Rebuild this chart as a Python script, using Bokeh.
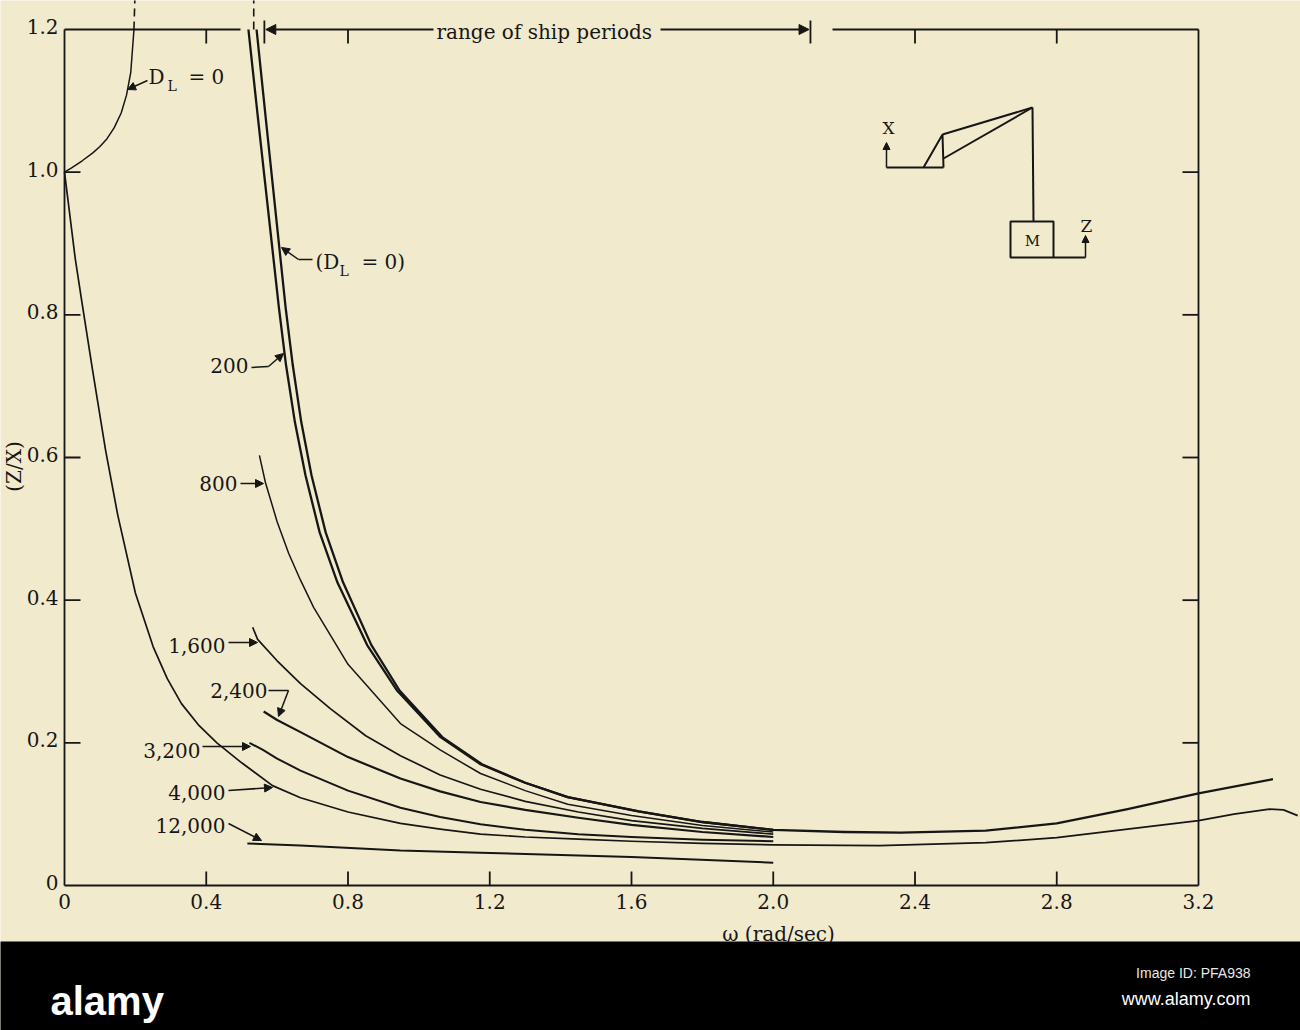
import math
from bokeh.plotting import figure
from bokeh.models import Range1d, Arrow, NormalHead
from bokeh.core.properties import value
from bokeh.embed import file_html
from bokeh.resources import INLINE

# ---------------- chart data ----------------
x_ticks = [0.0, 0.4, 0.8, 1.2, 1.6, 2.0, 2.4, 2.8, 3.2]
x_tick_labels = ["0", "0.4", "0.8", "1.2", "1.6", "2.0", "2.4", "2.8", "3.2"]
y_ticks = [0.0, 0.2, 0.4, 0.6, 0.8, 1.0, 1.2]
y_tick_labels = ["0", "0.2", "0.4", "0.6", "0.8", "1.0", "1.2"]
x_title = "ω (rad/sec)"
y_title = "(Z/X)"
range_label = "range of ship periods"
range_w = [0.564, 2.105]

# D_L = 0, low-frequency branch
w_dl0_low = [0.0, 0.02, 0.05, 0.08, 0.10, 0.12, 0.14, 0.16, 0.175, 0.187, 0.196]
z_dl0_low = [1.0, 1.006, 1.016, 1.027, 1.036, 1.047, 1.062, 1.083, 1.108, 1.14, 1.2]
w_dl0_low_dash = [0.196, 0.199]
z_dl0_low_dash = [1.2, 1.25]
w_res_dash = [0.534, 0.534]
z_res_dash = [1.2, 1.25]

# (D_L = 0), high-frequency branch
w_dl0 = [0.542, 0.567, 0.586, 0.605, 0.624, 0.644, 0.668, 0.697, 0.737, 0.786, 0.866, 0.946,
         1.066, 1.178, 1.30, 1.42, 1.62, 1.80, 2.0, 2.2, 2.36, 2.6, 2.8, 3.0, 3.2, 3.41]
z_dl0 = [1.2, 1.08, 0.99, 0.90, 0.81, 0.73, 0.65, 0.575, 0.495, 0.425, 0.337, 0.273,
         0.208, 0.170, 0.144, 0.124, 0.104, 0.089, 0.078, 0.075, 0.074, 0.077, 0.087, 0.107, 0.129, 0.149]

w_200 = [0.519, 0.545, 0.565, 0.585, 0.605, 0.625, 0.65, 0.68, 0.72, 0.77, 0.854, 0.939,
         1.061, 1.174, 1.30, 1.42, 1.62, 1.80, 2.0]
z_200 = [1.2, 1.08, 0.99, 0.90, 0.81, 0.73, 0.65, 0.575, 0.495, 0.425, 0.337, 0.273,
         0.208, 0.170, 0.144, 0.124, 0.104, 0.089, 0.078]

w_800 = [0.55, 0.567, 0.6, 0.633, 0.666, 0.703, 0.8, 0.948, 1.06, 1.174, 1.3, 1.42, 1.6, 1.8, 2.0]
z_800 = [0.603, 0.565, 0.51, 0.465, 0.428, 0.39, 0.31, 0.227, 0.19, 0.157, 0.133, 0.114, 0.098, 0.084, 0.075]

w_1600 = [0.531, 0.545, 0.6, 0.666, 0.75, 0.85, 0.948, 1.06, 1.174, 1.3, 1.45, 1.6, 1.8, 2.0]
z_1600 = [0.362, 0.345, 0.315, 0.283, 0.248, 0.21, 0.182, 0.155, 0.135, 0.118, 0.103, 0.091, 0.080, 0.072]

w_2400 = [0.562, 0.6, 0.666, 0.8, 0.948, 1.06, 1.174, 1.3, 1.45, 1.6, 1.8, 2.0]
z_2400 = [0.244, 0.232, 0.215, 0.18, 0.150, 0.132, 0.117, 0.106, 0.095, 0.085, 0.075, 0.068]

w_3200 = [0.522, 0.56, 0.6, 0.666, 0.8, 0.948, 1.06, 1.174, 1.3, 1.45, 1.6, 1.8, 2.0]
z_3200 = [0.2, 0.19, 0.178, 0.161, 0.133, 0.109, 0.096, 0.086, 0.078, 0.072, 0.068, 0.064, 0.062]

w_4000 = [0.0, 0.01, 0.03, 0.05, 0.08, 0.116, 0.15, 0.2, 0.25, 0.29, 0.33, 0.38, 0.43, 0.5, 0.587, 0.666, 0.8,
          0.948, 1.06, 1.174, 1.3, 1.45, 1.6, 1.8, 2.0, 2.3, 2.6, 2.8, 3.0, 3.2, 3.3, 3.4, 3.44, 3.48]
z_4000 = [1.0, 0.96, 0.88, 0.815, 0.72, 0.61, 0.52, 0.41, 0.335, 0.29, 0.255, 0.224, 0.20, 0.172, 0.14, 0.123, 0.103,
          0.087, 0.079, 0.072, 0.068, 0.065, 0.062, 0.059, 0.057, 0.056, 0.060, 0.067, 0.079, 0.091, 0.100, 0.107, 0.106, 0.098]

w_12000 = [0.516, 0.666, 0.948, 1.174, 1.6, 2.0]
z_12000 = [0.059, 0.056, 0.049, 0.046, 0.040, 0.032]

series_names = ["200", "800", "1,600", "2,400", "3,200", "4,000", "12,000"]

# ---------------- layout (reference pixel geometry) ----------------
W, H = 1300, 1030
OX, OY = 0, 0
X0_PX, X_SCALE = 64.0, 354.375
Y0_PX, Y_SCALE = 885.0, 713.333
BG = "#f2eacc"
INK = "#161616"
SERIF = value("DejaVu Serif")
SANS = value("Liberation Sans")


def rx(px):
    return (px - X0_PX) / X_SCALE


def ry(py):
    return (Y0_PX - py) / Y_SCALE


p = figure(width=W, height=H,
           x_range=Range1d(rx(OX), rx(OX + W)), y_range=Range1d(ry(OY + H), ry(OY)),
           x_axis_type=None, y_axis_type=None, toolbar_location=None,
           output_backend="svg", min_border=0,
           background_fill_color=BG, border_fill_color=BG, outline_line_color=None)

# ---------------- frame ----------------
x_min, x_max = x_ticks[0], x_ticks[-1]
y_min, y_max = y_ticks[0], y_ticks[-1]
gap_l, gap_r = rx(433), rx(660)
p.multi_line(xs=[[x_min, x_min], [x_min, x_max], [x_max, x_max], [x_min, rx(240)], [rx(832), x_max]],
             ys=[[y_min, y_max], [y_min, y_min], [y_min, y_max], [y_max, y_max], [y_max, y_max]],
             line_color=INK, line_width=1.8)

inner_x = x_ticks[1:-1]
inner_y = y_ticks[1:-1]
tv = 14 / Y_SCALE
th = 16 / X_SCALE
p.segment(x0=inner_x, y0=[y_min] * len(inner_x), x1=inner_x, y1=[y_min + tv] * len(inner_x),
          line_color=INK, line_width=1.8)
top_x = [t for t in inner_x if not (gap_l - 0.05 < t < rx(832))]
p.segment(x0=top_x, y0=[y_max] * len(top_x), x1=top_x, y1=[y_max - tv] * len(top_x),
          line_color=INK, line_width=1.8)
p.segment(x0=[x_min] * len(inner_y), y0=inner_y, x1=[x_min + th] * len(inner_y), y1=inner_y,
          line_color=INK, line_width=1.8)
p.segment(x0=[x_max] * len(inner_y), y0=inner_y, x1=[x_max - th] * len(inner_y), y1=inner_y,
          line_color=INK, line_width=1.8)

# tick labels
p.text(x=x_ticks, y=[ry(901)] * len(x_ticks), text=x_tick_labels, text_font=SERIF,
       text_font_size="20px", text_align="center", text_baseline="middle", text_color=INK)
p.text(x=[rx(58)] * len(y_ticks), y=[t + 3 / Y_SCALE for t in y_ticks], text=y_tick_labels,
       text_font=SERIF, text_font_size="20px", text_align="right", text_baseline="middle", text_color=INK)

# ---------------- curves ----------------
p.line(w_dl0_low, z_dl0_low, line_color=INK, line_width=1.5, line_join="round")
p.line(w_dl0_low_dash, z_dl0_low_dash, line_color=INK, line_width=1.6, line_dash="8 5")
p.line(w_res_dash, z_res_dash, line_color=INK, line_width=1.6, line_dash="8 5")
p.line(w_dl0, z_dl0, line_color=INK, line_width=2.3, line_join="round")
p.line(w_200, z_200, line_color=INK, line_width=2.3, line_join="round")
p.line(w_800, z_800, line_color=INK, line_width=1.5, line_join="round")
p.line(w_1600, z_1600, line_color=INK, line_width=1.7, line_join="round")
p.line(w_2400, z_2400, line_color=INK, line_width=2.2, line_join="round")
p.line(w_3200, z_3200, line_color=INK, line_width=2.0, line_join="round")
p.line(w_4000, z_4000, line_color=INK, line_width=1.7, line_join="round")
p.line(w_12000, z_12000, line_color=INK, line_width=2.0, line_join="round")


def arrow_path(pts, size=8):
    if len(pts) > 2:
        p.line([rx(a) for a, b in pts[:-1]], [ry(b) for a, b in pts[:-1]], line_color=INK, line_width=1.5)
    (xa, ya), (xb, yb) = pts[-2], pts[-1]
    p.add_layout(Arrow(end=NormalHead(size=size, fill_color=INK, line_color=INK, line_width=1),
                       x_start=rx(xa), y_start=ry(ya), x_end=rx(xb), y_end=ry(yb),
                       line_color=INK, line_width=1.5))


# ---------------- curve labels ----------------
label_px = {"200": (248, 365), "800": (237, 483), "1,600": (225, 645), "2,400": (267, 690),
            "3,200": (200, 750), "4,000": (225, 792), "12,000": (225, 825)}
label_arrows = {"200": [(251, 367), (268, 366), (283, 353)],
                "800": [(240, 483), (263, 483)],
                "1,600": [(228, 642), (257, 642)],
                "2,400": [(268, 690), (288, 690), (278, 716)],
                "3,200": [(202, 746), (250, 746)],
                "4,000": [(228, 790), (272, 787)],
                "12,000": [(228, 823), (261, 840)]}
p.text(x=[rx(label_px[n][0]) for n in series_names], y=[ry(label_px[n][1]) for n in series_names],
       text=series_names, text_font=SERIF, text_font_size="20px", text_align="right",
       text_baseline="middle", text_color=INK)
for n in series_names:
    arrow_path(label_arrows[n])

# D_L = 0 (low branch)
p.text(x=[rx(148), rx(188)], y=[ry(76), ry(76)], text=["D", "= 0"], text_font=SERIF,
       text_font_size="20px", text_align="left", text_baseline="middle", text_color=INK)
p.text(x=[rx(167)], y=[ry(85)], text=["L"], text_font=SERIF, text_font_size="14px",
       text_align="left", text_baseline="middle", text_color=INK)
arrow_path([(147, 80), (127, 89)])

# (D_L = 0) high branch
p.text(x=[rx(315), rx(361)], y=[ry(261), ry(261)], text=["(D", "= 0)"], text_font=SERIF,
       text_font_size="20px", text_align="left", text_baseline="middle", text_color=INK)
p.text(x=[rx(339)], y=[ry(270)], text=["L"], text_font=SERIF, text_font_size="14px",
       text_align="left", text_baseline="middle", text_color=INK)
arrow_path([(312, 259), (298, 259), (281, 247)])

# range of ship periods
p.segment(x0=range_w, y0=[ry(20)] * 2, x1=range_w, y1=[ry(43)] * 2, line_color=INK, line_width=1.8)
p.add_layout(Arrow(end=NormalHead(size=10, fill_color=INK, line_color=INK, line_width=1),
                   x_start=gap_l, y_start=y_max, x_end=range_w[0] + 0.004, y_end=y_max,
                   line_color=INK, line_width=1.8))
p.add_layout(Arrow(end=NormalHead(size=10, fill_color=INK, line_color=INK, line_width=1),
                   x_start=gap_r, y_start=y_max, x_end=range_w[1] - 0.004, y_end=y_max,
                   line_color=INK, line_width=1.8))
p.text(x=[rx(436)], y=[ry(31)], text=[range_label], text_font=SERIF, text_font_size="20px",
       text_align="left", text_baseline="middle", text_color=INK)

# ---------------- inset sketch ----------------
sketch = [[(886, 167), (943, 167)],
          [(923, 167), (942, 134), (943, 167)],
          [(942, 134), (1032, 107)],
          [(943, 158), (1032, 107)],
          [(1032, 107), (1033, 221)],
          [(1053, 257), (1085, 257)]]
p.multi_line(xs=[[rx(a) for a, b in s] for s in sketch], ys=[[ry(b) for a, b in s] for s in sketch],
             line_color=INK, line_width=2)
p.quad(left=[rx(1010)], right=[rx(1053)], top=[ry(221)], bottom=[ry(257)],
       fill_alpha=0, line_color=INK, line_width=2)
arrow_path([(886, 167), (886, 142)], size=7)
arrow_path([(1085, 257), (1085, 235)], size=7)
p.text(x=[rx(888), rx(1086)], y=[ry(127), ry(225)], text=["X", "Z"], text_font=SERIF,
       text_font_size="17px", text_align="center", text_baseline="middle", text_color=INK)
p.text(x=[rx(1032)], y=[ry(240)], text=["M"], text_font=SERIF, text_font_size="15px",
       text_align="center", text_baseline="middle", text_color=INK)

# ---------------- axis titles ----------------
p.text(x=[rx(778)], y=[ry(921)], text=[x_title], text_font=SERIF, text_font_size="20px",
       text_align="center", text_baseline="top", text_color=INK)
p.text(x=[rx(13)], y=[ry(466)], text=[y_title], text_font=SERIF, text_font_size="20px",
       text_align="center", text_baseline="middle", text_color=INK, angle=math.pi / 2)

# ---------------- bottom band ----------------
p.quad(left=[rx(OX) - 0.1], right=[rx(OX + W) + 0.1], top=[ry(941)], bottom=[ry(OY + H) - 0.1],
       fill_color="#000000", line_color=None)
p.text(x=[rx(50)], y=[ry(1000)], text=["alamy"], text_font=SANS, text_font_size="40px",
       text_font_style="bold", text_align="left", text_baseline="alphabetic", text_color="#ffffff")
p.text(x=[rx(1250)], y=[ry(972)], text=["Image ID: PFA938"], text_font=SANS, text_font_size="14px",
       text_align="right", text_baseline="middle", text_color="#e8e8e8")
p.text(x=[rx(1250)], y=[ry(998)], text=["www.alamy.com"], text_font=SANS, text_font_size="18px",
       text_align="right", text_baseline="middle", text_color="#ffffff")

open("out.html", "w").write(file_html(p, INLINE))
